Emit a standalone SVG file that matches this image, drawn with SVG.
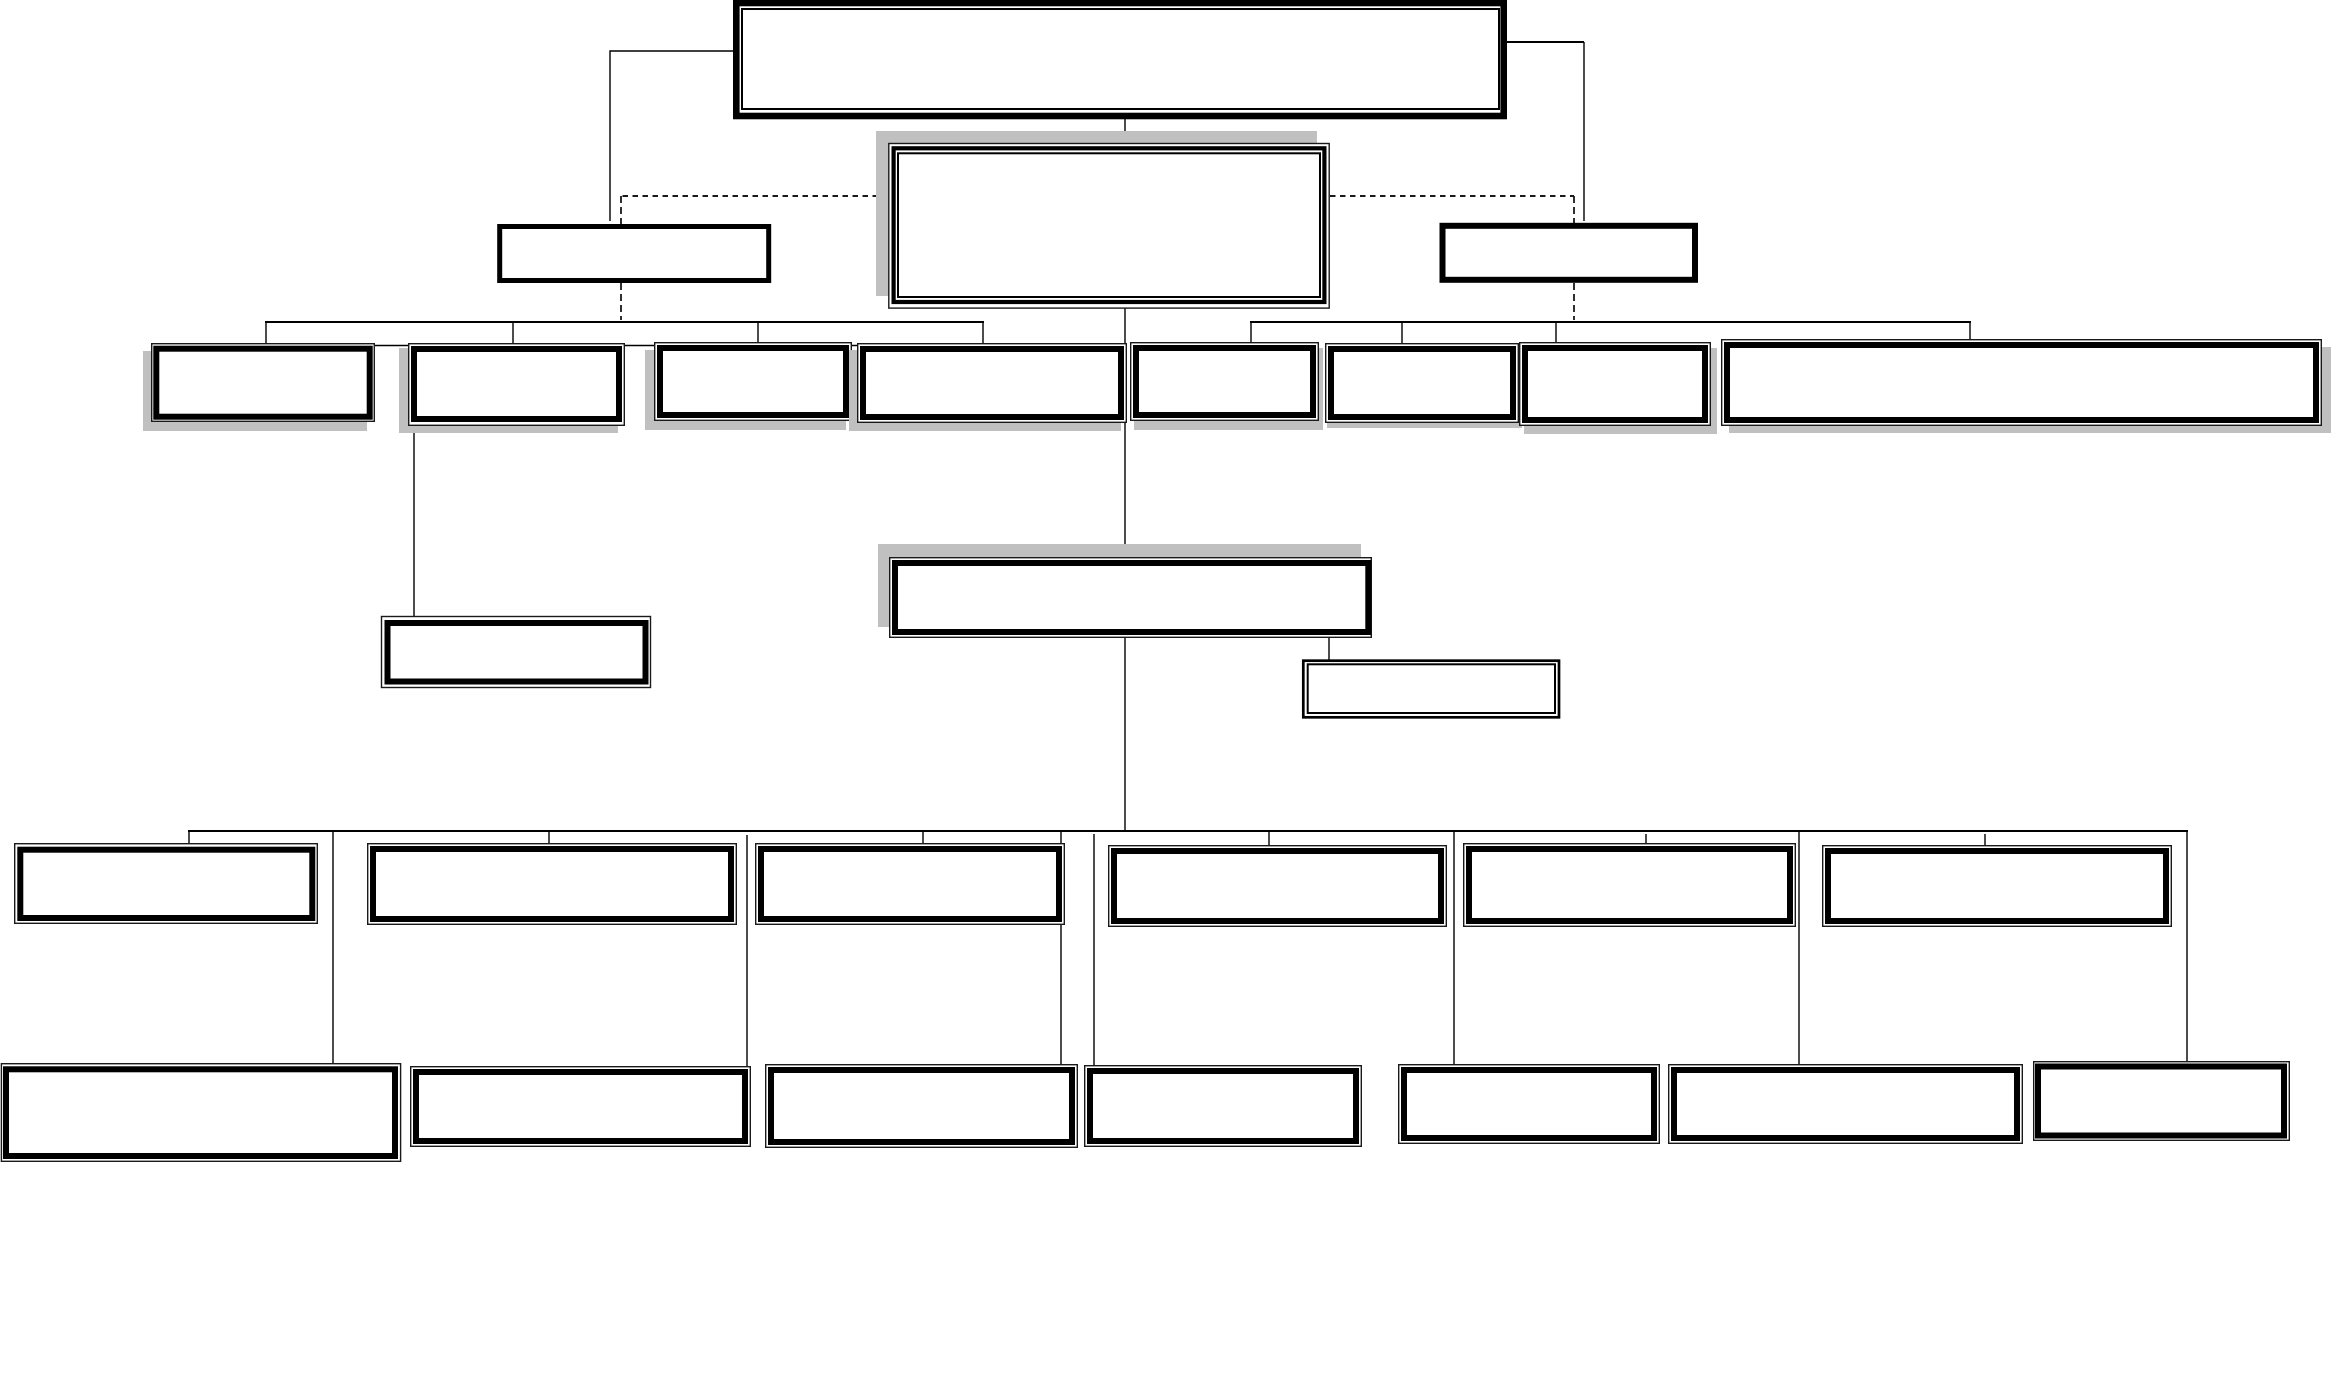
<svg xmlns="http://www.w3.org/2000/svg" width="2349" height="1390" viewBox="0 0 2349 1390">
<style>
.bg{fill:#ffffff}
.sh{fill:#c0c0c0}
.o{fill:#ffffff;stroke:#1a1a1a;stroke-width:1.4}
.t{fill:none;stroke:#000000;stroke-width:6}
.thin{fill:none;stroke:#000000;stroke-width:2}
.ln{fill:none;stroke:#000000;stroke-width:1.4}
.lnb{fill:none;stroke:#000000;stroke-width:1.9}
.dot{fill:none;stroke:#1a1a1a;stroke-width:2;stroke-dasharray:5.5 4.5}
.dash{fill:none;stroke:#1a1a1a;stroke-width:1.8;stroke-dasharray:7 4}
</style>
<rect class="bg" x="0" y="0" width="2349" height="1390"/>

<g id="connectors">
  <polyline class="ln" points="733,51 610,51 610,221"/>
  <polyline class="lnb" points="1507,42 1584,42"/>
  <polyline class="ln" points="1584,42 1584,221"/>
  <line class="ln" x1="1125" y1="119" x2="1125" y2="143"/>
  <polyline class="dot" points="888,196 621,196"/>
  <line class="dash" x1="621" y1="196" x2="621" y2="224"/>
  <line class="dash" x1="621" y1="283" x2="621" y2="320"/>
  <polyline class="dot" points="1330,196 1574,196"/>
  <line class="dash" x1="1574" y1="196" x2="1574" y2="223"/>
  <line class="dash" x1="1574" y1="283" x2="1574" y2="320"/>
  <line class="lnb" x1="265" y1="322" x2="984" y2="322"/>
  <line class="ln" x1="266" y1="322" x2="266" y2="347"/>
  <line class="ln" x1="513" y1="322" x2="513" y2="347"/>
  <line class="ln" x1="758" y1="322" x2="758" y2="346"/>
  <line class="ln" x1="983" y1="322" x2="983" y2="347"/>
  <line class="ln" x1="289" y1="345.5" x2="1008" y2="345.5"/>
  <line class="lnb" x1="1250" y1="322" x2="1971" y2="322"/>
  <line class="ln" x1="1251" y1="322" x2="1251" y2="346"/>
  <line class="ln" x1="1402" y1="322" x2="1402" y2="347"/>
  <line class="ln" x1="1556" y1="322" x2="1556" y2="346"/>
  <line class="ln" x1="1970" y1="322" x2="1970" y2="343"/>
  <line class="ln" x1="414" y1="426" x2="414" y2="616"/>
  <line class="ln" x1="1125" y1="308" x2="1125" y2="831"/>
  <line class="ln" x1="1329" y1="638" x2="1329" y2="661"/>
  <line class="lnb" x1="188" y1="831" x2="2188" y2="831"/>
  <line class="ln" x1="189" y1="831" x2="189" y2="847"/>
  <line class="ln" x1="549" y1="831" x2="549" y2="847"/>
  <line class="ln" x1="923" y1="831" x2="923" y2="847"/>
  <line class="ln" x1="1269" y1="831" x2="1269" y2="848"/>
  <line class="ln" x1="1646" y1="834" x2="1646" y2="847"/>
  <line class="ln" x1="1985" y1="834" x2="1985" y2="848"/>
  <line class="ln" x1="333" y1="831" x2="333" y2="1064"/>
  <line class="ln" x1="747" y1="835" x2="747" y2="1068"/>
  <line class="ln" x1="1061" y1="831" x2="1061" y2="1064"/>
  <line class="ln" x1="1094" y1="834" x2="1094" y2="1065"/>
  <line class="ln" x1="1454" y1="831" x2="1454" y2="1067"/>
  <line class="ln" x1="1799" y1="831" x2="1799" y2="1064"/>
  <line class="ln" x1="2187" y1="831" x2="2187" y2="1064"/>
</g>

<g id="n0">
  <rect x="736.3" y="3" width="767.4" height="113" fill="#fff" stroke="#000" stroke-width="6.6"/>
  <rect class="thin" x="742" y="9" width="757" height="100"/>
</g>

<g id="n1">
  <rect class="sh" x="876" y="131" width="441" height="165"/>
  <rect class="o" x="888.8" y="143.5" width="440.4" height="164.6"/>
  <rect class="t" x="893.6" y="148.3" width="430.8" height="153.7" style="stroke-width:4.2"/>
  <rect class="thin" x="898" y="153.3" width="422" height="143.7"/>
</g>

<g id="s1">
  <rect x="499.7" y="226.5" width="269" height="54" fill="#fff" stroke="#000" stroke-width="5"/>
</g>
<g id="s2">
  <rect x="1442.5" y="225.8" width="252.5" height="54" fill="#fff" stroke="#000" stroke-width="6"/>
</g>

<g id="b1">
  <rect class="sh" x="143" y="351" width="224" height="80"/>
  <rect class="o" x="151.7" y="343.7" width="222.6" height="77.6"/>
  <rect class="t" x="156.3" y="348.7" width="213.4" height="68"/>
</g>
<g id="b2">
  <rect class="sh" x="399" y="348" width="219" height="85"/>
  <rect class="o" x="408.7" y="343.7" width="215.6" height="81.6"/>
  <rect class="t" x="414" y="349" width="205" height="70"/>
</g>
<g id="b3">
  <rect class="sh" x="645" y="350" width="201" height="80"/>
  <rect class="o" x="654.7" y="342.7" width="196.6" height="77.6"/>
  <rect class="t" x="660" y="348" width="186" height="67"/>
</g>
<g id="b4">
  <rect class="sh" x="849" y="350" width="272" height="81"/>
  <rect class="o" x="857.7" y="343.7" width="268.6" height="78.6"/>
  <rect class="t" x="863" y="349" width="258" height="68"/>
</g>
<g id="b5">
  <rect class="sh" x="1134" y="348" width="189" height="82"/>
  <rect class="o" x="1130.7" y="342.7" width="187.6" height="77.6"/>
  <rect class="t" x="1136" y="348" width="177" height="67"/>
</g>
<g id="b6">
  <rect class="sh" x="1327" y="347" width="195" height="81"/>
  <rect class="o" x="1325.7" y="343.7" width="192.6" height="78.6"/>
  <rect class="t" x="1331" y="349" width="182" height="68"/>
</g>
<g id="b7">
  <rect class="sh" x="1524" y="348" width="193" height="86"/>
  <rect class="o" x="1519.7" y="342.7" width="190.6" height="82.6"/>
  <rect class="t" x="1525" y="348" width="180" height="72"/>
</g>
<g id="b8">
  <rect class="sh" x="1729" y="347" width="602" height="86"/>
  <rect class="o" x="1721.7" y="339.7" width="599.6" height="85.6"/>
  <rect class="t" x="1727" y="345" width="589" height="75"/>
</g>

<g id="s1b">
  <rect class="o" x="381.5" y="616.5" width="269" height="71"/>
  <rect class="t" x="387.5" y="623" width="258" height="58.5"/>
</g>

<g id="n2">
  <rect class="sh" x="878" y="544" width="483" height="83"/>
  <rect class="o" x="889.7" y="557.7" width="481.6" height="79.6"/>
  <rect class="t" x="895" y="563" width="473.3" height="69"/>
</g>

<g id="s3">
  <rect x="1303.3" y="660.7" width="255.7" height="56.6" fill="#fff" stroke="#000" stroke-width="2.7"/>
  <rect class="thin" x="1307.7" y="664.3" width="247.3" height="48.7"/>
</g>

<g id="c1"><rect class="o" x="14.7" y="843.7" width="302.6" height="79.6"/><rect class="t" x="20.3" y="849.7" width="292" height="68.3"/></g>
<g id="c2"><rect class="o" x="367.7" y="843.7" width="368.6" height="80.6"/><rect class="t" x="373" y="849" width="358" height="70"/></g>
<g id="c3"><rect class="o" x="755.7" y="843.7" width="308.6" height="80.6"/><rect class="t" x="761" y="849" width="298" height="70"/></g>
<g id="c4"><rect class="o" x="1108.7" y="845.7" width="337.6" height="80.6"/><rect class="t" x="1114" y="851" width="327" height="70"/></g>
<g id="c5"><rect class="o" x="1463.7" y="843.7" width="331.6" height="82.6"/><rect class="t" x="1469" y="849" width="321" height="72"/></g>
<g id="c6"><rect class="o" x="1822.7" y="845.7" width="348.6" height="80.6"/><rect class="t" x="1828" y="851" width="338" height="70"/></g>

<g id="d1"><rect class="o" x="1.4" y="1063.7" width="399.2" height="97.6"/><rect class="t" x="6" y="1069.3" width="389" height="86.7"/></g>
<g id="d2"><rect class="o" x="410.7" y="1066.7" width="339.6" height="79.6"/><rect class="t" x="416" y="1072" width="329" height="69"/></g>
<g id="d3"><rect class="o" x="765.7" y="1064.7" width="311.6" height="82.6"/><rect class="t" x="771" y="1070" width="301" height="72"/></g>
<g id="d4"><rect class="o" x="1084.7" y="1065.7" width="276.6" height="80.6"/><rect class="t" x="1090" y="1071" width="266" height="70"/></g>
<g id="d5"><rect class="o" x="1398.7" y="1064.7" width="260.6" height="78.6"/><rect class="t" x="1404" y="1070" width="250" height="68"/></g>
<g id="d6"><rect class="o" x="1668.7" y="1064.7" width="353.6" height="78.6"/><rect class="t" x="1674" y="1070" width="343" height="68"/></g>
<g id="d7"><rect class="o" x="2033.7" y="1061.7" width="255.6" height="78.6"/><rect class="t" x="2038" y="1066.5" width="246" height="69"/></g>
</svg>
